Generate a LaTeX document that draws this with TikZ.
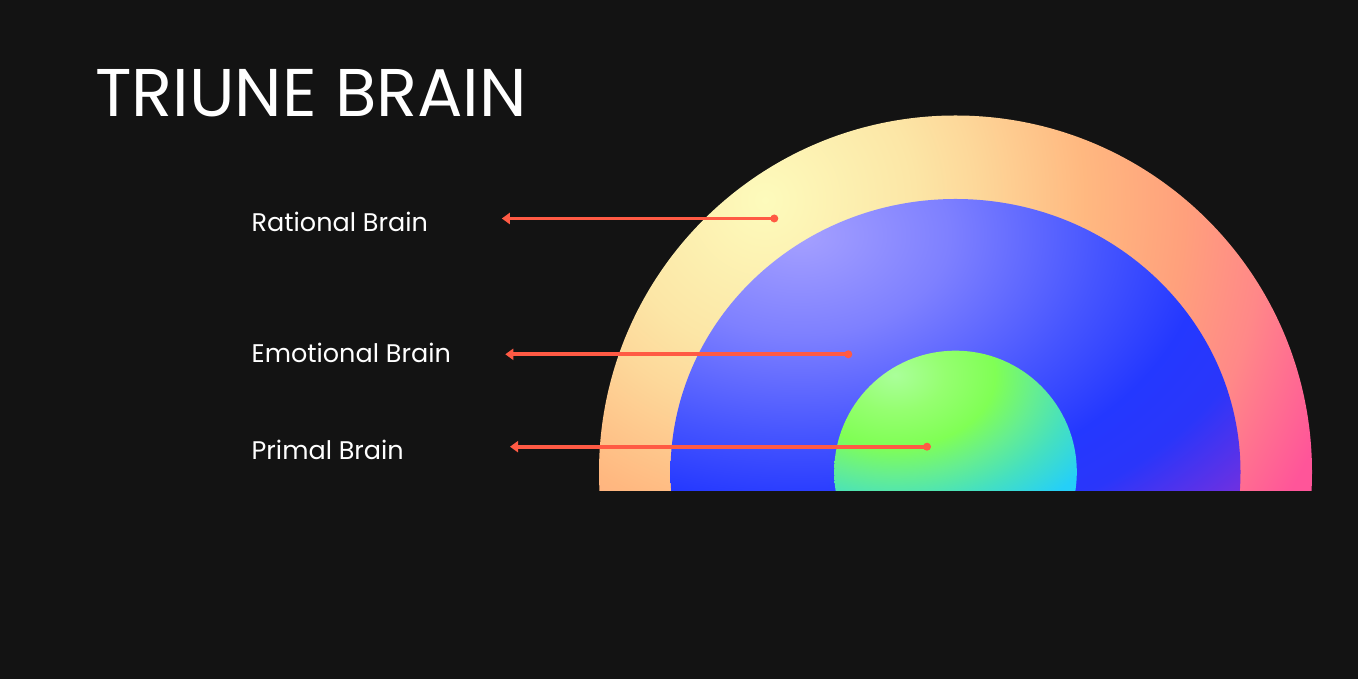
\documentclass[tikz,border=0pt]{standalone}
\usepackage{fontspec}
\setmainfont{Poppins}
\usetikzlibrary{arrows.meta}
\definecolor{bg}{HTML}{131313}
\definecolor{arr}{HTML}{FF5A44}
% outer ring colours
\definecolor{oA}{HTML}{FDFBBC}
\definecolor{oB}{HTML}{FCE6A6}
\definecolor{oC}{HTML}{FDD89A}
\definecolor{oD}{HTML}{FFB880}
\definecolor{oE}{HTML}{FFA07C}
\definecolor{oF}{HTML}{FF8888}
\definecolor{oG}{HTML}{FF5599}
% middle colours
\definecolor{mA}{HTML}{A5A0FF}
\definecolor{mB}{HTML}{7E80FF}
\definecolor{mC}{HTML}{4655FF}
\definecolor{mD}{HTML}{2438FF}
\definecolor{mE}{HTML}{2A36FA}
\definecolor{mF}{HTML}{7030E0}
\definecolor{mG}{HTML}{8030D8}
% inner colours
\definecolor{gA}{HTML}{AAFF9A}
\definecolor{gB}{HTML}{95FF70}
\definecolor{gC}{HTML}{80FF55}
\definecolor{gD}{HTML}{66EE90}
\definecolor{gE}{HTML}{45E0C0}
\definecolor{gF}{HTML}{25CFF8}
\pgfdeclareradialshading{outerS}{\pgfpoint{0bp}{0bp}}{color(0bp)=(oA); color(5.35bp)=(oB); color(7.5bp)=(oC); color(11.45bp)=(oD); color(15bp)=(oE); color(17.85bp)=(oF); color(21.45bp)=(oG); color(72bp)=(oG)}
\pgfdeclareradialshading{middleS}{\pgfpoint{0bp}{0bp}}{color(0bp)=(mA); color(7.15bp)=(mB); color(14.3bp)=(mC); color(19.3bp)=(mD); color(22.85bp)=(mE); color(27.85bp)=(mF); color(32.15bp)=(mG); color(72bp)=(mG)}
\pgfdeclareradialshading{innerS}{\pgfpoint{0bp}{0bp}}{color(0bp)=(gA); color(6.25bp)=(gB); color(12.5bp)=(gC); color(17.5bp)=(gD); color(22.5bp)=(gE); color(28.75bp)=(gF); color(72bp)=(gF)}
\tikzset{
  titleS/.style={text=white, inner sep=0pt, anchor=base west, font=\fontsize{67.5}{72}\selectfont},
  labelS/.style={text=white, inner sep=0pt, anchor=base west, font=\fontsize{25.5}{30}\selectfont},
  dotS/.style={circle, fill=arr, inner sep=0pt, minimum size=8pt},
  arrowS/.style={draw=arr, line width=3.8pt, -{Triangle[length=8pt,width=11pt]}, shorten <=-2pt},
}
\begin{document}
\begin{tikzpicture}[x=1pt,y=1pt]
\useasboundingbox (0,0) rectangle (1358,679);
\fill[bg] (0,0) rectangle (1358,679);
% half-disc layers, clipped at the base line
\begin{scope}
  \clip (0,188.3) rectangle (1358,679);
  \begin{scope}
    \clip (955.5,207) circle (356.5);
    \shade[shading=outerS] (65,-221) rectangle (1465,1179);
  \end{scope}
  \begin{scope}
    \clip (955.5,207) ellipse [x radius=285, y radius=273];
    \shade[shading=middleS] (275,94) rectangle (1325,794);
  \end{scope}
  \begin{scope}
    \clip (955.5,207) circle (121.3);
    \shade[shading=innerS] (695,161.1) rectangle (1095,446.9);
  \end{scope}
\end{scope}
% texts
\node[titleS] (title) at (95,562.3) {TRIUNE BRAIN};
\node[labelS] (lr) at (251.5,447.3) {Rational Brain};
\node[labelS] (le) at (251.5,316.7) {Emotional Brain};
\node[labelS] (lp) at (251.5,219.7) {Primal Brain};
% pointers
\node[dotS] (dr) at (774.3,460.5) {};
\node[dotS] (de) at (848.3,324.7) {};
\node[dotS] (dp) at (927,232.3) {};
\coordinate (tr) at (501.8,460.5);
\coordinate (te) at (505.3,324.7);
\coordinate (tp) at (510,232.3);
\draw[arrowS] (dr) -- (tr);
\draw[arrowS] (de) -- (te);
\draw[arrowS] (dp) -- (tp);
\end{tikzpicture}
\end{document}
